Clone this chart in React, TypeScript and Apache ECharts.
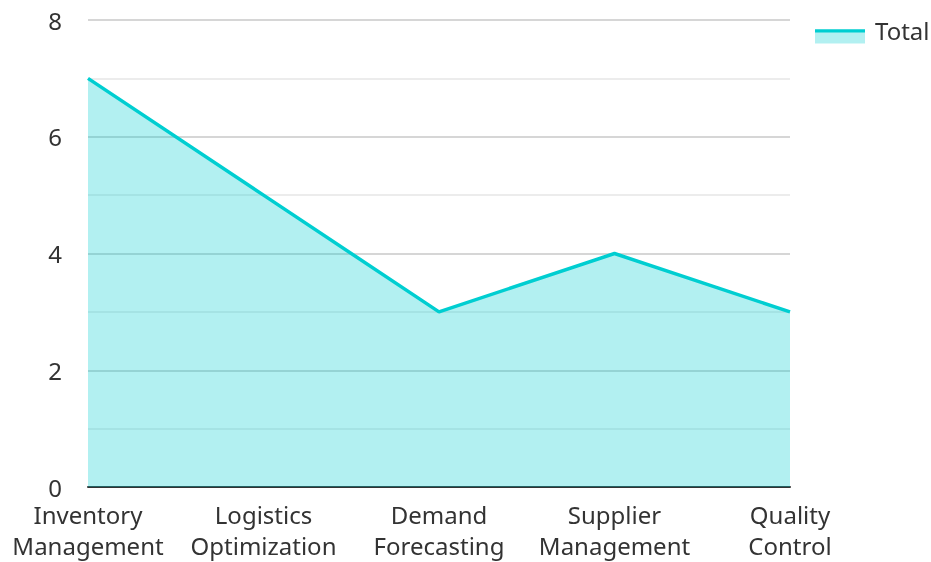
import React, { useEffect, useRef } from "react";
import * as echarts from "echarts";

const categories = [
  "Inventory\nManagement",
  "Logistics\nOptimization",
  "Demand\nForecasting",
  "Supplier\nManagement",
  "Quality\nControl",
];
const totalValues = [7, 5, 3, 4, 3];
const seriesName = "Total";

const LINE = "#00CED1";
const FILL = "rgba(0,206,209,0.3)";
const FONT = "Noto Sans";
const FS = 24;

export default function App() {
  const ref = useRef<HTMLDivElement>(null);
  useEffect(() => {
    if (!ref.current) return;
    const chart = echarts.init(ref.current, undefined, { renderer: "svg" });
    chart.setOption({
      animation: false,
      textStyle: { fontFamily: FONT },
      grid: { left: 88, right: 141, top: 20, bottom: 75, containLabel: false },
      legend: {
        left: 815,
        top: 13,
        itemWidth: 50,
        itemHeight: 14,
        itemGap: 10,
        icon: "rect",
        itemStyle: { color: "rgba(0,0,0,0)" },
        textStyle: {
          fontFamily: FONT,
          fontSize: FS,
          color: "#333",
          padding: [0, 0, 13, 0],
        },
        data: [seriesName],
      },
      graphic: [
        {
          type: "rect",
          shape: { x: 815, y: 31, width: 50, height: 12.5 },
          style: { fill: FILL },
          silent: true,
          z: 99,
        },
        {
          type: "line",
          shape: { x1: 815, y1: 30.8, x2: 865, y2: 30.8 },
          style: { stroke: LINE, lineWidth: 3.2 },
          silent: true,
          z: 100,
        },
      ],
      xAxis: {
        type: "category",
        data: categories,
        boundaryGap: false,
        axisLine: { show: true, lineStyle: { color: "#333", width: 2 } },
        axisTick: { show: false },
        axisLabel: {
          fontFamily: FONT,
          fontSize: FS,
          color: "#333",
          lineHeight: 31,
          margin: 12,
          interval: 0,
        },
        splitLine: { show: false },
      },
      yAxis: {
        type: "value",
        min: 0,
        max: 8,
        interval: 2,
        axisLine: { show: false },
        axisTick: { show: false },
        axisLabel: { fontFamily: FONT, fontSize: FS, color: "#333", margin: 26 },
        splitLine: { show: true, lineStyle: { color: "#c8c8c8", width: 1.5 } },
        minorTick: { show: false, splitNumber: 2 },
        minorSplitLine: { show: true, lineStyle: { color: "#e6e6e6", width: 1.5 } },
      },
      series: [
        {
          name: seriesName,
          type: "line",
          data: totalValues,
          showSymbol: false,
          symbol: "none",
          lineStyle: { color: LINE, width: 3.5 },
          itemStyle: { color: LINE },
          areaStyle: { color: LINE, opacity: 0.3 },
          z: 1,
        },
      ],
    });
    return () => chart.dispose();
  }, []);
  return (
    <div
      ref={ref}
      style={{ position: "fixed", left: 0, top: 0, width: 931, height: 562 }}
    />
  );
}
